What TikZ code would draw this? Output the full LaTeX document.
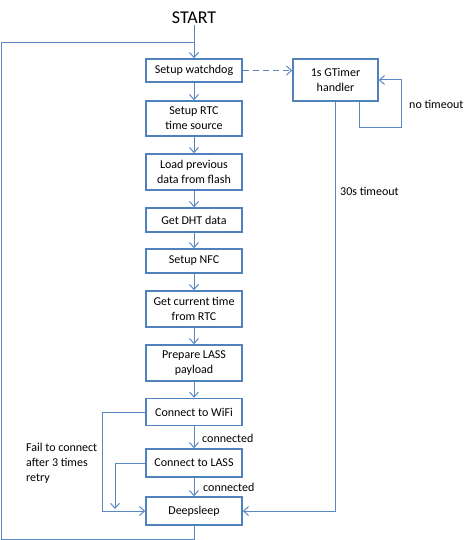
\documentclass[tikz,border=0pt]{standalone}
\usepackage{fontspec}
\setmainfont{Carlito}
\usetikzlibrary{arrows.meta}
\definecolor{boxblue}{HTML}{4F81BD}
\definecolor{lineblue}{HTML}{5B87C5}
\tikzset{
  box/.style={draw=boxblue,line width=1.6pt,minimum width=96pt,inner sep=1pt,align=center,font=\fontsize{12}{15}\selectfont,fill=white},
  conn/.style={draw=lineblue,line width=1pt},
  arr/.style={conn,-{Straight Barb[length=5pt,width=9pt,line width=1pt]}},
  lbl/.style={font=\fontsize{12}{15}\selectfont,inner sep=0pt}
}
\begin{document}
\begin{tikzpicture}[x=1pt,y=-1pt]
\useasboundingbox (0,0) rectangle (474,540);
\node[font=\fontsize{18}{20}\selectfont,inner sep=1pt] (start) at (194,18) {START};
\node[box,minimum height=23pt] (wd) at (194,70.5) {Setup watchdog};
\node[box,minimum height=35pt] (rtc) at (194,118.5) {Setup RTC\\time source};
\node[box,minimum height=36pt] (load) at (194,172) {Load previous\\data from flash};
\node[box,minimum height=24pt] (dht) at (194,220) {Get DHT data};
\node[box,minimum height=24pt] (nfc) at (194,261) {Setup NFC};
\node[box,minimum height=36pt] (cur) at (194,309) {Get current time\\from RTC};
\node[box,minimum height=36pt] (prep) at (194,363) {Prepare LASS\\payload};
\node[box,minimum height=27pt] (wifi) at (194,412) {Connect to WiFi};
\node[box,minimum height=28pt] (lass) at (194,463) {Connect to LASS};
\node[box,minimum height=28pt] (deep) at (194,511) {Deepsleep};
\node[box,minimum width=85pt,minimum height=42pt] (gt) at (335.5,80) {1s GTimer\\handler};

\coordinate (j) at (194,43);
\coordinate (tl) at (1.5,43);
\coordinate (bl) at (1.5,539);
\draw[conn] (start) -- (j);
\draw[arr] (j) -- (wd);
\draw[conn] (deep.south) |- (bl) -- (tl) -- (j);

\draw[arr] (wd) -- (rtc);
\draw[arr] (rtc) -- (load);
\draw[arr] (load) -- (dht);
\draw[arr] (dht) -- (nfc);
\draw[arr] (nfc) -- (cur);
\draw[arr] (cur) -- (prep);
\draw[arr] (prep) -- (wifi);
\draw[arr] (wifi) -- (lass);
\draw[arr] (lass) -- (deep);

\draw[arr,dashed,dash pattern=on 6pt off 4pt] (wd.east) -- (gt.west |- wd.east);

\coordinate (sl1) at (359,128);
\coordinate (sl2) at (401,80);
\draw[arr] (gt.south -| sl1) -- (sl1) -| (sl2) -- (gt.east);
\draw[arr] (gt.south) |- (deep.east);

\coordinate (fx) at (102,412);
\draw[arr] (wifi.west) -- (fx) |- (deep.west);
\coordinate (ly) at (115,509);
\draw[arr] (lass.west) -| (ly);

\node[lbl,anchor=west] (nt) at (409,104) {no timeout};
\node[lbl,anchor=west] (to) at (340,191) {30s timeout};
\node[lbl,anchor=west] (c1) at (202,438) {connected};
\node[lbl,anchor=west] (c2) at (203,487) {connected};
\node[lbl,anchor=west,align=left] (fail) at (26,463) {Fail to connect\\after 3 times\\retry};
\end{tikzpicture}
\end{document}
